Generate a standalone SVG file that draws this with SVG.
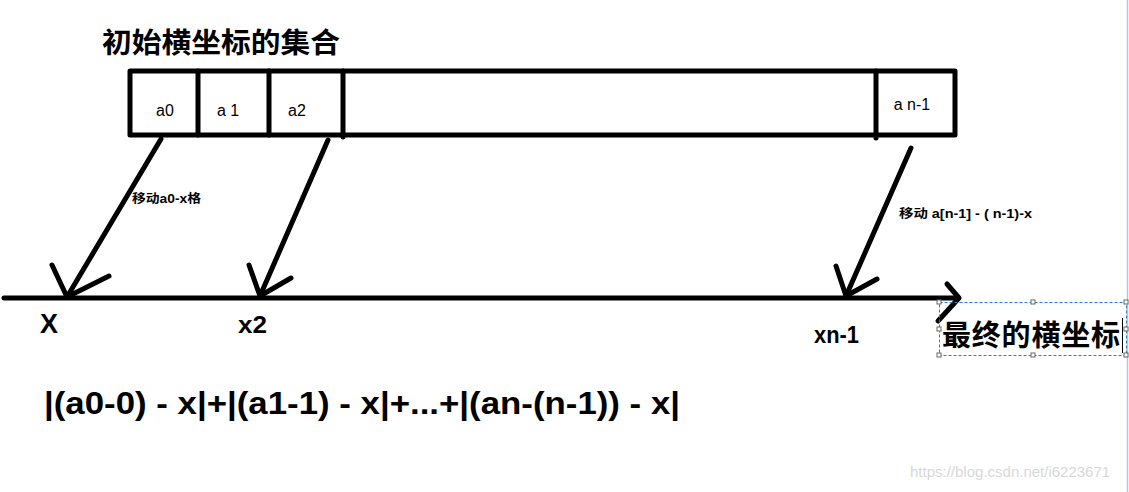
<svg xmlns="http://www.w3.org/2000/svg" width="1129" height="492" viewBox="0 0 1129 492">
<style>
.ln{stroke:#000;stroke-width:5;fill:none;stroke-linecap:round;stroke-linejoin:round}
.cell{font-family:"Liberation Sans","Noto Sans CJK SC",sans-serif;font-size:16px;fill:#000}
.cjk{font-family:"Noto Sans CJK SC",sans-serif;font-weight:bold;fill:#000}
.lab{font-family:"Liberation Sans",sans-serif;font-weight:bold;fill:#000}
.small{font-family:"Liberation Sans","Noto Sans CJK SC",sans-serif;font-weight:bold;font-size:12px;fill:#000}
.hd{fill:#fff;stroke:#666;stroke-width:1}
</style>
<rect width="1129" height="492" fill="#fff"/>
<line x1="1127.5" y1="0" x2="1127.5" y2="492" stroke="#b8c4d8" stroke-width="1.5"/>
<g id="title"><text class="cjk" x="102" y="53" font-size="28" textLength="238" lengthAdjust="spacingAndGlyphs">初始横坐标的集合</text></g>
<g id="array">
<rect x="130" y="71" width="825" height="64" class="ln"/>
<line class="ln" x1="198" y1="71" x2="198" y2="135"/>
<line class="ln" x1="269" y1="71" x2="269" y2="135"/>
<line class="ln" x1="343" y1="71" x2="343" y2="137"/>
<line class="ln" x1="876" y1="71" x2="876" y2="138"/>
<text class="cell" x="165" y="116" text-anchor="middle">a0</text>
<text class="cell" x="228" y="116" text-anchor="middle">a 1</text>
<text class="cell" x="297" y="116" text-anchor="middle">a2</text>
<text class="cell" x="912" y="110" text-anchor="middle">a n-1</text>
</g>
<g id="connectors">
<line class="ln" x1="4" y1="298" x2="958" y2="298" stroke-width="4"/>
<polyline class="ln" points="947,284 959,298 938,321"/>
<line class="ln" x1="161" y1="139" x2="67" y2="297"/>
<polyline class="ln" points="52,265 67,297 109,276"/>
<line class="ln" x1="328" y1="140" x2="260" y2="296"/>
<polyline class="ln" points="249,265 260,296 291,278"/>
<line class="ln" x1="911" y1="148" x2="846" y2="296"/>
<polyline class="ln" points="836,266 846,296 877,279"/>
</g>
<g id="labels">
<text class="small" x="132" y="203" textLength="69" lengthAdjust="spacingAndGlyphs">移动a0-x格</text>
<text class="small" x="899" y="218" textLength="133" lengthAdjust="spacingAndGlyphs">移动 a[n-1] - ( n-1)-x</text>
<text class="lab" x="40" y="333" font-size="27" textLength="18" lengthAdjust="spacingAndGlyphs">X</text>
<text class="lab" x="238" y="333" font-size="24" textLength="29" lengthAdjust="spacingAndGlyphs">x2</text>
<text class="lab" x="814" y="343" font-size="24" textLength="45" lengthAdjust="spacingAndGlyphs">xn-1</text>
</g>
<g id="final">
<rect x="939.5" y="302.5" width="187" height="53" fill="none" stroke="#1f7fd6" stroke-width="1" stroke-dasharray="3,2"/>
<rect class="hd" x="937" y="300" width="4" height="4"/>
<rect class="hd" x="1031" y="300" width="4" height="4"/>
<rect class="hd" x="1124" y="300" width="4" height="4"/>
<rect class="hd" x="937" y="327" width="4" height="4"/>
<rect class="hd" x="1124" y="327" width="4" height="4"/>
<rect class="hd" x="937" y="353" width="4" height="4"/>
<rect class="hd" x="1031" y="353" width="4" height="4"/>
<rect class="hd" x="1124" y="353" width="4" height="4"/>
<text class="cjk" x="942" y="346" font-size="29" textLength="178">最终的横坐标</text>
<line x1="1122.5" y1="318" x2="1122.5" y2="353" stroke="#000" stroke-width="1"/>
</g>
<g id="formula">
<text class="lab" x="44" y="414" font-size="32" textLength="636" lengthAdjust="spacingAndGlyphs">|(a0-0) - x|+|(a1-1) - x|+...+|(an-(n-1)) - x|</text>
</g>
<text x="910" y="477" font-family="Liberation Sans,sans-serif" font-size="15" fill="#d8d8d8">https://blog.csdn.net/i6223671</text>
</svg>
